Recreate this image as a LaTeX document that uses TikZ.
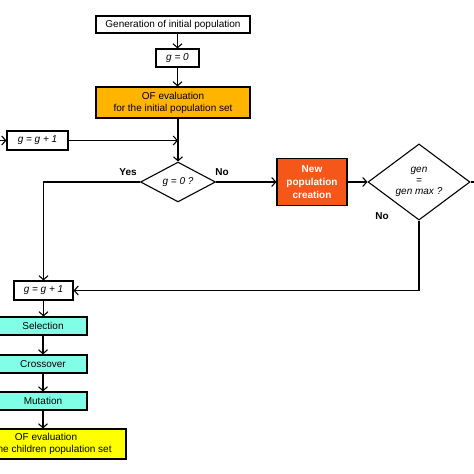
\documentclass[tikz,border=0pt]{standalone}
\usepackage{fontspec}
\setsansfont{Liberation Sans}
\usetikzlibrary{shapes.geometric,arrows.meta}
\definecolor{ofamber}{HTML}{FFB400}
\definecolor{neworange}{HTML}{F5561A}
\definecolor{opcyan}{HTML}{80FFE6}
\definecolor{ofyellow}{HTML}{FFFF00}

\begin{document}
\begin{tikzpicture}[x=1pt, y=-1pt, font=\sffamily\fontsize{10}{12}\selectfont, line width=1.1pt,
        >={Straight Barb[length=4pt,width=9pt]},
        box/.style={draw, inner sep=2pt, align=center},
        var/.style={font=\sffamily\itshape\fontsize{10}{12}\selectfont},
        test/.style={draw, diamond, inner sep=0pt, align=center, font=\sffamily\itshape\fontsize{10}{11}\selectfont},
        lbl/.style={font=\sffamily\bfseries\fontsize{10}{13}\selectfont}]
        \useasboundingbox (0,0) rectangle (474,474);
        \clip (0,0) rectangle (474,474);
        \node[box, minimum width=154pt, minimum height=17pt] (init) at (173,24.5) {Generation of initial population};
        \node[box, var, minimum width=43pt, minimum height=18pt] (g0) at (177.5,58) {g = 0};
        \node[box, fill=ofamber, minimum width=154pt, minimum height=31pt] (ofinit) at (173,102.5) {OF evaluation\\for the initial population set};
        \node[box, var, minimum width=61pt, minimum height=19pt] (incA) at (37.5,140.5) {g = g + 1};
        \node[test, minimum width=75pt, minimum height=27pt] (zero) at (178,182) {g = 0 ?};
        \node[box, fill=neworange, text=white, lbl, minimum width=70pt, minimum height=47pt] (newpop) at (312,182) {New\\population\\creation};
        \node[test, minimum width=102pt, minimum height=70pt] (stop) at (419,182) {gen\\=\\gen max ?};
        \node[box, var, minimum width=59pt, minimum height=19pt] (incB) at (43.5,290.5) {g = g + 1};
        \foreach \name/\txt/\y in {sel/Selection/326, cross/Crossover/364, mut/Mutation/401}
            \node[box, fill=opcyan, minimum width=88pt, minimum height=18pt] (\name) at (43,\y) {\txt};
        \node[box, fill=ofyellow, minimum width=160pt, minimum height=30pt] (ofchild) at (46,444) {OF evaluation\\for the children population set};
        \node[lbl] (yes) at (128,172) {Yes};
        \node[lbl] (noA) at (222,172) {No};
        \node[lbl] (noB) at (382,216) {No};
        \coordinate (inA) at (-12,140.5);
        \coordinate (outYes) at (490,182);
        \draw[->] (init.south -| g0) -- (g0.north);
        \draw[->] (g0.south) -- (g0.south |- ofinit.north);
        \draw[->] (ofinit.south -| zero) -- (zero.north);
        \draw[->] (inA) -- (incA.west);
        \draw[->] (incA.east) -- (incA.east -| zero);
        \draw[->] (zero.west) -| (incB.north);
        \draw[->] (zero.east) -- (newpop.west);
        \draw[->] (newpop.east) -- (stop.west);
        \draw (stop.east) -- (outYes);
        \draw[->] (stop.south) |- (incB.east);
        \foreach \a/\b in {incB/sel, sel/cross, cross/mut, mut/ofchild} \draw[->] (\a.south) -- (\a.south |- \b.north);
    \end{tikzpicture}
\end{document}
